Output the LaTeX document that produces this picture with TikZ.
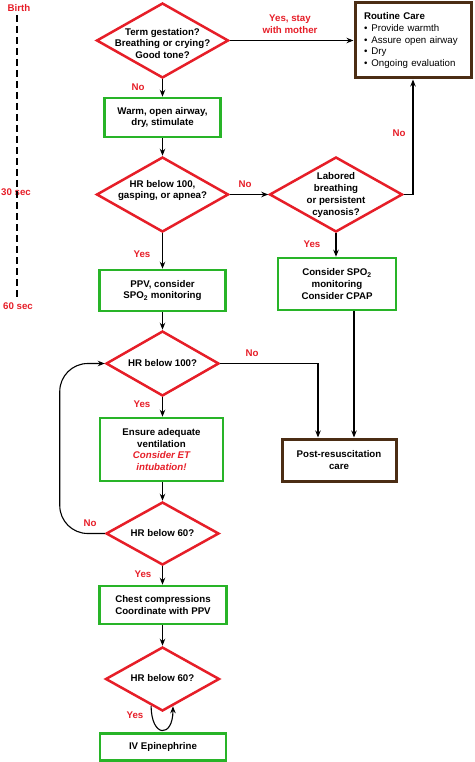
\documentclass[tikz,border=0pt]{standalone}
\usepackage{fontspec}
\setmainfont{Liberation Sans}
\usetikzlibrary{arrows.meta}
\usetikzlibrary{shapes}

\definecolor{qred}{RGB}{230,30,40}
\definecolor{agreen}{RGB}{40,180,40}
\definecolor{cbrown}{RGB}{75,45,20}

\newcommand{\spo}{SPO\textsubscript{2}}

\begin{document}
\begin{tikzpicture}
  [x=1pt,y=-1pt,
   font=\fontsize{9.7}{11.8}\selectfont\bfseries,
   query/.style={diamond,draw=qred,line width=2.5pt,inner sep=0pt},
   action/.style={rectangle,draw=agreen,line width=2.5pt,align=center},
   care/.style={rectangle,draw=cbrown,line width=3pt},
   answer/.style={text=qred,align=center},
   flow/.style={-{Stealth[length=7pt,width=5.5pt]},line width=1.1pt},
   timeline/.style={dash pattern=on 7pt off 4pt,line width=1.2pt}]
  \useasboundingbox (0,0) rectangle (474,762);

  \node[answer] (birth) at (19,8) {Birth};
  \node[answer] (thirty) at (16,192) {30 sec};
  \node[answer] (sixty) at (18,306) {60 sec};
  \draw[timeline] (17,15) -- (17,298);

  \node[query,minimum width=132pt,minimum height=75pt] (term) at (162.5,40.5) {};
  \node[align=center] (termtxt) at (162.5,43.5) {Term gestation?\\Breathing or crying?\\Good tone?};
  \node[care,minimum width=116pt,minimum height=75pt,text width=98pt,align=left] (routine) at (413,40.5)
    {Routine Care\\\mdseries
     \textbullet\hspace{4pt}Provide warmth\\
     \textbullet\hspace{4pt}Assure open airway\\
     \textbullet\hspace{4pt}Dry\\
     \textbullet\hspace{4pt}Ongoing evaluation};
  \node[action,minimum width=116pt,minimum height=39pt] (warm) at (162.5,117.5) {Warm, open airway,\\dry, stimulate};

  \node[query,minimum width=132pt,minimum height=75pt] (gasp) at (162.5,194.5) {};
  \node[align=center] (gasptxt) at (162.5,190.5) {HR below 100,\\gasping, or apnea?};
  \node[query,minimum width=133pt,minimum height=75pt] (labored) at (336,194.5) {};
  \node[align=center] (laboredtxt) at (336,195) {Labored\\breathing\\or persistent\\cyanosis?};

  \node[action,minimum width=126pt,minimum height=41pt] (ppv) at (162.5,290.5) {PPV, consider\\\spo\ monitoring};
  \node[action,minimum width=118pt,minimum height=52pt] (cpap) at (337,284) {Consider \spo\\monitoring\\Consider CPAP};

  \node[query,minimum width=113pt,minimum height=65pt] (hr100) at (162.5,363.5) {};
  \node (hr100txt) at (162.5,363) {HR below 100?};
  \node[action,minimum width=123pt,minimum height=63pt] (vent) at (161.5,449.5)
    {Ensure adequate\\ventilation\\\textcolor{qred}{\itshape Consider ET}\\\textcolor{qred}{\itshape intubation!}};
  \node[care,minimum width=114pt,minimum height=42pt,align=center] (post) at (339,460) {Post-resuscitation\\care};

  \node[query,minimum width=113pt,minimum height=63pt] (hra) at (162.5,533.5) {};
  \node (hratxt) at (162.5,533) {HR below 60?};
  \node[action,minimum width=127pt,minimum height=38pt] (chest) at (163,605) {Chest compressions\\Coordinate with PPV};
  \node[query,minimum width=114pt,minimum height=64pt] (hrb) at (162.5,679) {};
  \node (hrbtxt) at (162.5,678) {HR below 60?};
  \node[action,minimum width=126pt,minimum height=27pt] (epi) at (163,747) {IV Epinephrine};

  \draw[flow] (term.east) -- (routine.west |- term.east);
  \draw[flow] (term.south) -- (warm.north);
  \draw[flow] (warm.south) -- (gasp.north);
  \draw[flow] (gasp.east) -- (labored.west);
  \draw[flow] (labored.east) -| (routine.south);
  \draw[flow] (labored.south) -- (labored.south |- cpap.north);
  \draw[flow] (gasp.south) -- (ppv.north);
  \draw[flow] (ppv.south) -- (hr100.north);
  \draw[flow] (hr100.east) -| ([xshift=-21pt]post.north);
  \draw[flow] ([xshift=17pt]cpap.south) -- ([xshift=17pt]cpap.south |- post.north);
  \draw[flow] (hr100.south) -- (hr100.south |- vent.north);
  \draw[flow] (hr100.south |- vent.south) -- (hra.north);
  \draw[flow,rounded corners=28pt] (hra.west) -| ([xshift=-45pt]hr100.west) -- (hr100.west);
  \draw[flow] (hra.south) -- (hra.south |- chest.north);
  \draw[flow] (hra.south |- chest.south) -- (hrb.north);
  \draw[flow] (hrb.247) .. controls +(0,32) and +(0,32) .. (hrb.291);

  \node[answer] (stay) at (290,24) {Yes, stay\\with mother};
  \node[answer] (no1) at (138,87) {No};
  \node[answer] (no2) at (245,184) {No};
  \node[answer] (no3) at (399,133) {No};
  \node[answer] (yes1) at (312,244) {Yes};
  \node[answer] (yes2) at (142,254) {Yes};
  \node[answer] (no4) at (252,353) {No};
  \node[answer] (yes3) at (142,404) {Yes};
  \node[answer] (no5) at (90,523) {No};
  \node[answer] (yes4) at (143,574) {Yes};
  \node[answer] (yes5) at (135,715) {Yes};
\end{tikzpicture}
\end{document}
